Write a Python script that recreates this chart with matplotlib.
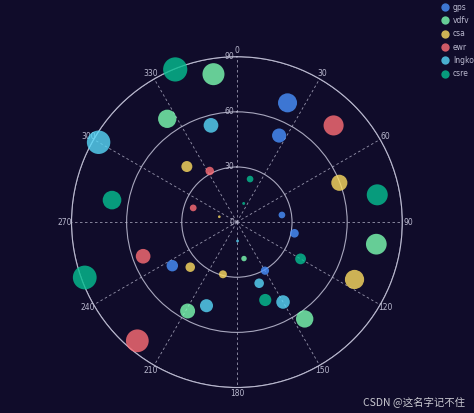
import numpy as np
import matplotlib.pyplot as plt
from matplotlib.lines import Line2D
from matplotlib.transforms import ScaledTranslation

# 系列名と色 (echarts dark テーマ風)
names = ['gps', 'vdfv', 'csa', 'ewr', 'lngko', 'csre']
colors = ['#4992ff', '#7cffb2', '#fddd60', '#ff6e76', '#58d9f9', '#05c091']

# 各系列の (角度, 半径)
gps_ang = [23, 26, 81, 101, 150, 236]
gps_r = [70.5, 52.4, 24.8, 31.9, 30.5, 42.4]
vdfv_ang = [351, 326, 99, 169, 145, 209]
vdfv_r = [81.5, 67.8, 76.8, 20.2, 64.3, 55.3]
csa_ang = [318, 287, 69, 116, 226, 195]
csa_r = [40.7, 10.0, 59.7, 71.2, 35.3, 29.4]
ewr_ang = [332, 288, 45, 250, 220, 0]
ewr_r = [31.5, 25.0, 74.4, 54.3, 84.3, 1.0]
lngko_ang = [345, 300, 178, 160, 150, 200]
lngko_r = [54.5, 86.9, 10.3, 35.4, 50.2, 48.4]
csre_ang = [338, 280, 79, 17, 20, 120, 160, 250]
csre_r = [89.6, 69.0, 77.8, 24.5, 10.8, 40.0, 45.1, 88.1]

angles = [gps_ang, vdfv_ang, csa_ang, ewr_ang, lngko_ang, csre_ang]
radii = [gps_r, vdfv_r, csa_r, ewr_r, lngko_r, csre_r]

bg = '#100c2a'
txt = '#b9b8ce'

fig = plt.figure(figsize=(4.74, 4.13), dpi=100, facecolor=bg)
ax = fig.add_axes([0.1508, 0.0617, 0.698, 0.801], projection='polar')
ax.set_facecolor(bg)
ax.set_theta_zero_location('N')
ax.set_theta_direction(-1)
ax.set_ylim(0, 90)
ax.set_yticks([0, 30, 60, 90])
ax.set_yticklabels([])
ax.set_xticks(np.deg2rad(np.arange(0, 360, 30)))
ax.set_xticklabels([str(a) for a in range(0, 360, 30)], color=txt, fontsize=5.5)
ax.tick_params(axis='x', pad=-6)
ax.xaxis.grid(True, color=txt, linestyle=(0, (3, 3)), linewidth=0.6, alpha=0.8)
ax.yaxis.grid(True, color=txt, linestyle='-', linewidth=0.8, alpha=0.9)
ax.spines['polar'].set_color(txt)
ax.spines['polar'].set_linewidth(0.8)

# 半径軸のラベル
off = ScaledTranslation(-2 / 72, 0, fig.dpi_scale_trans)
for v in [0, 30, 60, 90]:
    ax.text(0, v, str(v), color=txt, fontsize=5.5, ha='right', va='center',
            transform=ax.transData + off)

# 散布図 (大きさは半径に比例)
for ang, r, c in zip(angles, radii, colors):
    r = np.array(r)
    ax.scatter(np.deg2rad(ang), r, s=(0.1944 * r) ** 2, color=c, alpha=0.8,
               edgecolors='none', zorder=3, clip_on=False)

# 凡例
handles = [Line2D([], [], marker='o', ls='', color=c, alpha=0.8, markersize=6,
                  markeredgewidth=0) for c in colors]
leg = fig.legend(handles, names, loc='upper left', bbox_to_anchor=(0.9255, 1.0),
                 frameon=False, fontsize=5.5, labelcolor=txt, handlelength=0.85,
                 handletextpad=0.65, labelspacing=0.57, borderaxespad=0, borderpad=0.35)

fig.text(0.981, 0.012, 'CSDN @这名字记不住', color='#c8c8d0', fontsize=7.5, ha='right',
         va='bottom', family=['Noto Sans CJK SC', 'DejaVu Sans'])

fig.savefig('out.png', dpi=100, facecolor=bg)
